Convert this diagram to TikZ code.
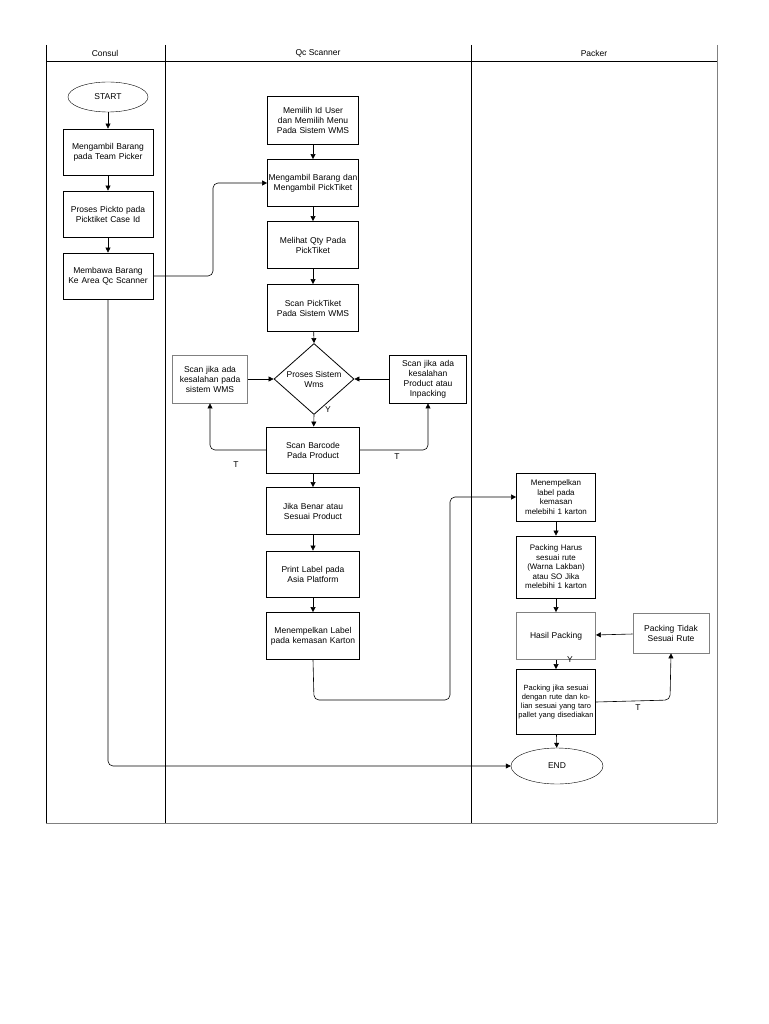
\documentclass[tikz,border=0pt]{standalone}
\usepackage{fontspec}
\setmainfont{Liberation Sans}
\usetikzlibrary{shapes.geometric,arrows.meta}
\begin{document}
\begin{tikzpicture}[x=1pt,y=-1pt,
  box/.style={draw,thick,minimum width=#1,align=center,inner sep=1pt,font=\fontsize{8.5}{10}\selectfont,text width=#1-2pt},
  box/.default=90pt,
  gbox/.style={box=#1,draw=gray},
  gbox/.default=90pt,
  term/.style={draw,ellipse,minimum width=#1,minimum height=30pt,font=\fontsize{8.5}{10}\selectfont},
  arr/.style={semithick,-{Triangle[length=5pt,width=5pt]},rounded corners=5pt},
  lbl/.style={font=\fontsize{8.5}{10}\selectfont}]
\useasboundingbox (0,0) rectangle (768,1024);
% pool
\draw[semithick] (46,45) -- (46,823);
\draw[semithick] (165,45) -- (165,823);
\draw[semithick] (471,45) -- (471,823);
\draw[gray] (717,45) -- (717,823);
\draw[gray] (46,823) -- (717,823);
\draw[semithick] (46,61) -- (717,61);
\node[lbl] (h1) at (105,53) {Consul};
\node[lbl] (h2) at (318,53) {Qc Scanner};
\node[lbl] (h3) at (594,53) {Packer};
% consul
\node[term=80pt,minimum height=30pt] (start) at (108,97) {START};
\node[box,minimum height=46pt] (c1) at (108,152) {Mengambil Barang pada Team Picker};
\node[box,minimum height=46pt] (c2) at (108,214) {Proses Pickto pada Picktiket Case Id};
\node[box,minimum height=46pt] (c3) at (108,276) {Membawa Barang Ke Area Qc Scanner};
% qc
\node[box=91pt,minimum height=48pt] (q1) at (313,120) {Memilih Id User dan Memilih Menu Pada Sistem WMS};
\node[box=91pt,minimum height=47pt] (q2) at (313,183) {Mengambil Barang dan Mengambil PickTiket};
\node[box=91pt,minimum height=47pt] (q3) at (313,245) {Melihat Qty Pada\\PickTiket};
\node[box=91pt,minimum height=47pt] (q4) at (313,308) {Scan PickTiket Pada Sistem WMS};
\node[draw,thick,diamond,minimum width=80pt,minimum height=62pt,inner sep=0pt,font=\fontsize{8.5}{10}\selectfont,align=center] (d) at (314,379) {Proses Sistem\\Wms};
\node[gbox=75pt,minimum height=48pt] (sl) at (210,379) {Scan jika ada kesalahan pada sistem WMS};
\node[box=77pt,minimum height=48pt] (sr) at (428,379) {Scan jika ada kesalahan\\Product atau Inpacking};
\node[box=93pt,minimum height=46pt] (q5) at (313,450) {Scan Barcode Pada Product};
\node[box=93pt,minimum height=47pt] (q6) at (313,511) {Jika Benar atau Sesuai Product};
\node[box=93pt,minimum height=46pt] (q7) at (313,574) {Print Label pada Asia Platform};
\node[box=93pt,minimum height=47pt] (q8) at (313,636) {Menempelkan Label pada kemasan Karton};
% packer
\node[box=79pt,minimum height=48pt,font=\fontsize{8}{9.5}\selectfont] (p1) at (556,497) {Menempelkan label pada\\kemasan melebihi 1 karton};
\node[box=79pt,minimum height=62pt,font=\fontsize{8}{9.5}\selectfont] (p2) at (556,567) {Packing Harus sesuai rute (Warna Lakban)\\atau SO Jika melebihi 1 karton};
\node[gbox=79pt,minimum height=47pt] (p3) at (556,636) {Hasil Packing};
\node[gbox=76pt,minimum height=40pt] (p4) at (671,633) {Packing Tidak Sesuai Rute};
\node[box=79pt,minimum height=65pt,font=\fontsize{7.5}{9}\selectfont] (p5) at (556,702) {Packing jika sesuai dengan rute dan kolian sesuai yang taro pallet yang disediakan};
\node[term=92pt,minimum height=36pt] (end) at (557,766) {END};
% arrows
\draw[arr] (start) -- (c1);
\draw[arr] (c1) -- (c2);
\draw[arr] (c2) -- (c3);
\draw[arr] (c3.east) -- (213,276) -- (213,183) -- (q2.west);
\draw[arr] (c3.south) -- (108,766) -- (end.west);
\draw[arr] (q1) -- (q2);
\draw[arr] (q2) -- (q3);
\draw[arr] (q3) -- (q4);
\draw[arr] (q4) -- (d.north);
\draw[arr] (sl) -- (d.west);
\draw[arr] (sr) -- (d.east);
\draw[arr] (d.south) -- (q5);
\node[lbl] (ly) at (328,410) {Y};
\draw[arr] (q5.west) -- (210,450) -- (sl.south);
\draw[arr] (q5.east) -- (428,450) -- (sr.south);
\node[lbl] (lt1) at (236,465) {T};
\node[lbl] (lt2) at (397,457) {T};
\draw[arr] (q5) -- (q6);
\draw[arr] (q6) -- (q7);
\draw[arr] (q7) -- (q8);
\draw[arr] (q8.south) -- (314,700) -- (450,700) -- (450,497) -- (p1.west);
\draw[arr] (p1) -- (p2);
\draw[arr] (p2) -- (p3);
\draw[arr] (p3) -- (p5);
\node[lbl] (ly2) at (570,660) {Y};
\draw[arr] (p5.east) -- (670,700) -- (p4.south);
\node[lbl] (lt3) at (638,708) {T};
\draw[arr] (p4) -- (p3);
\draw[arr] (p5) -- (end);
\end{tikzpicture}
\end{document}
